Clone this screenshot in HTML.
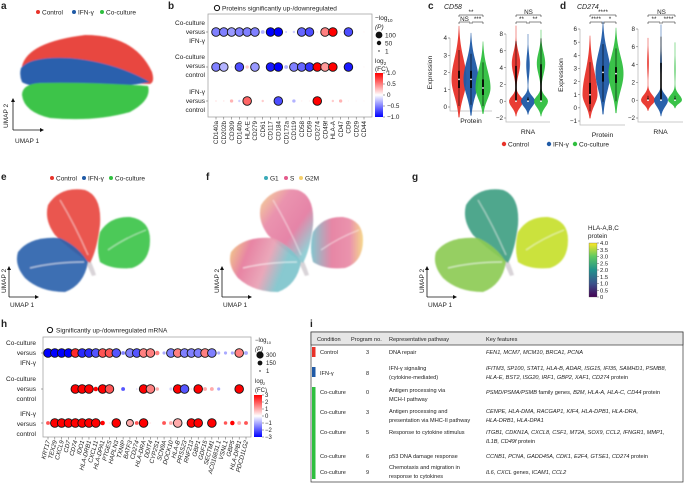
<!DOCTYPE html>
<html><head><meta charset="utf-8"><style>
html,body{margin:0;padding:0;background:#fff;width:685px;height:483px;overflow:hidden}
svg{font-family:"Liberation Sans",sans-serif;display:block}
text{fill:#222}
.it{font-style:italic}
.lbl{font-weight:bold;font-size:10px}
</style></head><body>
<svg id="fig" width="685" height="483" viewBox="0 0 685 483">
<defs>
<filter id="blur1" x="-20%" y="-20%" width="140%" height="140%"><feGaussianBlur stdDeviation="0.9"/></filter>
<linearGradient id="fcb" x1="0" y1="0" x2="0" y2="1"><stop offset="0" stop-color="#f00"/><stop offset="0.5" stop-color="#fff"/><stop offset="1" stop-color="#00f"/></linearGradient>
<linearGradient id="vir" x1="0" y1="1" x2="0" y2="0"><stop offset="0" stop-color="#440154"/><stop offset="0.25" stop-color="#3b528b"/><stop offset="0.5" stop-color="#21918c"/><stop offset="0.75" stop-color="#5ec962"/><stop offset="1" stop-color="#fde725"/></linearGradient>
<linearGradient id="fTop" x1="0" y1="0" x2="1" y2="1"><stop offset="0" stop-color="#f5d98a"/><stop offset="0.3" stop-color="#e98aa8"/><stop offset="0.6" stop-color="#e47aa0"/><stop offset="0.85" stop-color="#8ccbd2"/></linearGradient>
<linearGradient id="fLeft" x1="0" y1="0" x2="1" y2="0.3"><stop offset="0" stop-color="#f3d27a"/><stop offset="0.3" stop-color="#e67a9c"/><stop offset="0.6" stop-color="#e9a0b4"/><stop offset="0.85" stop-color="#7ec4cc"/></linearGradient>
<linearGradient id="fRight" x1="0" y1="0" x2="1" y2="0"><stop offset="0" stop-color="#78c2cc"/><stop offset="0.4" stop-color="#e57c9e"/><stop offset="0.75" stop-color="#e98aa6"/><stop offset="1" stop-color="#f5d480"/></linearGradient>
</defs>

<g>
<text class="lbl" x="1" y="9">a</text>
<g font-size="6.5">
<circle cx="38" cy="12" r="2" fill="#e8332a"/><text x="42" y="14.5">Control</text>
<circle cx="74" cy="12" r="2" fill="#1f5aa6"/><text x="78" y="14.5">IFN-γ</text>
<circle cx="102" cy="12" r="2" fill="#2fbf3f"/><text x="106" y="14.5">Co-culture</text>
</g>
<g filter="url(#blur1)">
<path d="M22 66 Q28 42 85 35 Q135 35 152 72 Q155 82 150 84 L22 80Z" fill="#e8473f"/>
<path d="M21 68 Q30 56 70 58 Q115 62 150 82 Q120 88 70 88 Q30 88 22 82 Q19 75 21 68Z" fill="#2a60ad"/>
<path d="M22 95 Q22 84 40 83 Q90 82 148 86 Q152 100 130 112 Q95 122 50 118 Q24 112 22 95Z" fill="#3cc44a"/>
</g>
<path d="M13 130 V100 M13 130 H42" stroke="#111" stroke-width="0.8" fill="none"/>
<path d="M11 102 L13 98 L15 102Z M40 128 L44 130 L40 132Z" fill="#111"/>
<text x="15" y="143" font-size="6.5">UMAP 1</text>
<text transform="translate(8,128) rotate(-90)" font-size="6.5">UMAP 2</text>
</g>

<g id="pb">
<text class="lbl" x="168" y="9">b</text>
<circle cx="217" cy="8" r="2.6" fill="none" stroke="#111" stroke-width="1"/>
<text x="222" y="10.5" font-size="6.5">Proteins significantly up-/downregulated</text>
<rect x="208" y="14" width="164" height="103" fill="none" stroke="#999" stroke-width="0.7"/>
<g font-size="6.5" text-anchor="end">
<text x="205" y="25">Co-culture</text><text x="205" y="34">versus</text><text x="205" y="43">IFN-γ</text>
<text x="205" y="59">Co-culture</text><text x="205" y="68">versus</text><text x="205" y="77">control</text>
<text x="205" y="94">IFN-γ</text><text x="205" y="103">versus</text><text x="205" y="112">control</text>
</g>
<g font-size="6.5">
<text x="375" y="20">−log<tspan font-size="4.5" dy="2">10</tspan></text><text x="375" y="29" class="it">(P)</text>
<circle cx="379" cy="35" r="3.4" fill="#111"/><text x="385" y="37.5">100</text>
<circle cx="379" cy="43" r="2.2" fill="#111"/><text x="385" y="45.5">50</text>
<circle cx="379" cy="51" r="0.7" fill="#111"/><text x="385" y="53.5">1</text>
<text x="375" y="63">log<tspan font-size="4.5" dy="2">2</tspan></text><text x="375" y="71">(FC)</text>
<rect x="375" y="73" width="8" height="44" fill="url(#fcb)"/>
</g>
</g>

<g id="pcd">
<text class="lbl" x="428" y="9">c</text>
<text class="it" x="444" y="9" font-size="7">CD58</text>
<text class="lbl" x="560" y="9">d</text>
<text class="it" x="577" y="9" font-size="7">CD274</text>
<g font-size="6.5">
<circle cx="504" cy="144" r="2.2" fill="#e8332a"/><text x="508" y="146.5">Control</text>
<circle cx="549" cy="144" r="2.2" fill="#1f5aa6"/><text x="553" y="146.5">IFN-γ</text>
<circle cx="575" cy="144" r="2.2" fill="#2fbf3f"/><text x="579" y="146.5">Co-culture</text>
</g>
</g>

<g id="pefg">
<text class="lbl" x="1" y="180">e</text>
<g font-size="6.5">
<circle cx="52" cy="178" r="2" fill="#e8332a"/><text x="56" y="180.5">Control</text>
<circle cx="84" cy="178" r="2" fill="#1f5aa6"/><text x="88" y="180.5">IFN-γ</text>
<circle cx="111" cy="178" r="2" fill="#2fbf3f"/><text x="115" y="180.5">Co-culture</text>
</g>
<text class="lbl" x="206" y="180">f</text>
<g font-size="6.5">
<circle cx="266" cy="178" r="2" fill="#3aaab8"/><text x="270" y="180.5">G1</text>
<circle cx="286" cy="178" r="2" fill="#e35b8c"/><text x="290" y="180.5">S</text>
<circle cx="301" cy="178" r="2" fill="#f5cf6a"/><text x="305" y="180.5">G2M</text>
</g>
<text class="lbl" x="412" y="180">g</text>
<g font-size="6.3">
<text x="588" y="230">HLA-A,B,C</text><text x="588" y="238">protein</text>
<rect x="589" y="243" width="8" height="54" fill="url(#vir)" stroke="#555" stroke-width="0.3"/>
</g>
</g>

<g id="ph">
<text class="lbl" x="1" y="327">h</text>
<circle cx="50" cy="330" r="2.6" fill="none" stroke="#111" stroke-width="1"/>
<text x="56" y="332.5" font-size="6.5">Significantly up-/downregulated mRNA</text>
<rect x="43" y="337" width="208" height="100" fill="none" stroke="#999" stroke-width="0.7"/>
<g font-size="6.5" text-anchor="end">
<text x="36" y="345">Co-culture</text><text x="36" y="355">versus</text><text x="36" y="365">IFN-γ</text>
<text x="36" y="381">Co-culture</text><text x="36" y="391">versus</text><text x="36" y="401">control</text>
<text x="36" y="416">IFN-γ</text><text x="36" y="426">versus</text><text x="36" y="436">control</text>
</g>
<g font-size="6">
<text x="255" y="342">−log<tspan font-size="4" dy="2">10</tspan></text><text x="255" y="351" class="it">(P)</text>
<circle cx="260" cy="355" r="3.6" fill="#111"/><text x="266" y="357">300</text>
<circle cx="260" cy="363" r="2.4" fill="#111"/><text x="266" y="365">150</text>
<circle cx="260" cy="371" r="0.7" fill="#111"/><text x="266" y="373">1</text>
<text x="255" y="383">log<tspan font-size="4" dy="2">2</tspan></text><text x="255" y="392">(FC)</text>
<rect x="254" y="395" width="8" height="42" fill="url(#fcb)"/>
</g>
</g>

<g font-size="5.6">
<text class="lbl" x="310" y="327">i</text>
<rect x="311" y="332" width="372" height="150" fill="none" stroke="#333" stroke-width="0.7"/>
<rect x="311" y="332" width="372" height="13" fill="#e6e6e6" stroke="#333" stroke-width="0.7"/>
<text x="317" y="341">Condition</text><text x="351" y="341">Program no.</text><text x="389" y="341">Representative pathway</text><text x="486" y="341">Key features</text>
<rect x="312" y="347" width="3.5" height="10" fill="#e8332a"/>
<rect x="312" y="367" width="3.5" height="10" fill="#1f5aa6"/>
<rect x="312" y="387" width="3.5" height="92" fill="#2fbf3f"/>
<g>
<text x="320" y="354">Control</text><text x="366" y="354">3</text><text x="389" y="354">DNA repair</text><text x="486" y="354" class="it">FEN1, MCM7, MCM10, BRCA1,  PCNA</text>
<text x="320" y="375">IFN-γ</text><text x="366" y="375">8</text><text x="389" y="370">IFN-γ signaling</text><text x="389" y="379">(cytokine-mediated)</text>
<text x="486" y="370" class="it">IFITM3, SP100, STAT1, HLA-B, ADAR, ISG15, IFI35, SAMHD1, PSMB8,</text>
<text x="486" y="379"><tspan class="it">HLA-E, BST2, ISG20, IRF1, GBP2, XAF1, CD274</tspan> protein</text>
<text x="320" y="394">Co-culture</text><text x="366" y="394">0</text><text x="389" y="392">Antigen processing via</text><text x="389" y="401">MCH-I pathway</text>
<text x="486" y="394"><tspan class="it">PSMD/PSMA/PSMB</tspan> family genes, <tspan class="it">B2M, HLA-A, HLA-C, CD44</tspan> protein</text>
<text x="320" y="414">Co-culture</text><text x="366" y="414">3</text><text x="389" y="413">Antigen processing and</text><text x="389" y="422">presentation via MHC-II pathway</text>
<text x="486" y="413" class="it">CENPE, HLA-DMA, RACGAP1, KIF4, HLA-DPB1, HLA-DRA,</text>
<text x="486" y="422" class="it">HLA-DRB1, HLA-DPA1</text>
<text x="320" y="434">Co-culture</text><text x="366" y="434">5</text><text x="389" y="434">Response to cytokine stimulus</text>
<text x="486" y="434" class="it">ITGB1, CDKN1A, CXCL8, CSF1, MT2A, SOX9, CCL2, IFNGR1, MMP1,</text>
<text x="486" y="443"><tspan class="it">IL1B, CD49f</tspan> protein</text>
<text x="320" y="458">Co-culture</text><text x="366" y="458">6</text><text x="389" y="458">p53 DNA damage response</text>
<text x="486" y="458"><tspan class="it">CCNB1, PCNA, GADD45A, CDK1, E2F4, GTSE1, CD274</tspan> protein</text>
<text x="320" y="474">Co-culture</text><text x="366" y="474">9</text><text x="389" y="469">Chemotaxis and migration in</text><text x="389" y="478">response to cytokines</text>
<text x="486" y="474"><tspan class="it">IL6, CXCL</tspan> genes, <tspan class="it">ICAM1, CCL2</tspan></text>
</g>
</g>
</svg>
<script>
var bProteins = ["CD140a","CD202b","CD309","CD140b","HLA-E","CD279","CD61","CD117","CD184","CD172a","CD119","CD58","CD59","CD274","CD49f","HLA-A","CD47","CD9","CD29","CD44"];
var bFC1 = [-0.5,-0.5,-0.4,-0.5,-0.5,-0.5,-0.3,-1.0,-1.0,-0.2,-0.2,-0.6,-0.7,0.1,0.5,1.0,0.1,-0.7,0.05,0.05];
var bP1  = [100,100,100,100,100,100,20,100,100,5,8,100,100,3,100,100,4,100,2,2];
var bS1  = [1,1,1,1,1,1,0,1,1,0,0,1,1,0,1,1,0,1,0,0];
var bFC2 = [-0.5,-0.3,-0.1,-0.7,0.2,-0.4,0.05,-0.9,-1.0,-0.3,-0.5,-0.6,-0.8,1.0,0.4,1.0,0.05,-0.9,0.05,0.05];
var bP2  = [100,100,3,100,15,100,2,100,100,20,100,100,100,100,100,100,2,100,2,2];
var bS2  = [1,1,0,1,0,1,0,1,1,0,1,1,1,1,1,1,0,1,0,0];
var bFC3 = [0.1,0.1,0.3,-0.2,0.6,0.05,0.2,0.05,-0.7,0.05,-0.3,0.05,0.05,1.0,0.05,0.2,0.3,0.05,0.05,0.05];
var bP3  = [4,3,15,8,100,2,8,3,100,2,15,3,3,100,2,8,15,2,2,2];
var bS3  = [0,0,0,0,1,0,0,0,1,0,0,0,0,1,0,0,0,0,0,0];
var bFCTicks = ["1.0","0.5","0","−0.5","−1.0"];

var hGenes = ["KRT17","TEX29","CXCL9","CD7","CD74","IDO1","HLA-DRB1","CXCL11","HLA-DPA1","PTGES","HAPLN3","TXNIP","BATF3","CD274","HLA-DRA","DDIT4","CYP2S1","SCN9A","DOCK10","HLA-B","PRSS23","RNF213","GBP1","GDF15","SECTM1","AC016831.1","VSNL1","GBP5","HLA-DPB1","PDCD1LG2"];
var hFC1 = [-3,-3,-3,-3,2.5,-2.5,-2.5,-2,2,2,-2,-1.5,-1.5,-2,1.5,1.5,1.5,-1,-1.5,1.5,-1.5,-1.5,-1.5,1.5,-1.5,-1,-1,-1,1.5,-1];
var hP1  = [300,300,300,300,300,300,300,300,300,300,300,60,300,300,300,300,80,40,300,300,300,300,300,300,300,40,40,40,300,60];
var hS1  = [1,1,1,1,1,1,1,1,1,1,1,0,1,1,1,1,0,0,1,1,1,1,1,1,1,0,0,0,1,0];
var hFC2 = [0,0,0,0,3,3,3,3,3,2,0,-2,0,-0.5,3,1.5,1,0,-0.5,3,-2,0.5,3,1,1,-1,0,0,3,0];
var hP2  = [0,0,0,0,300,300,300,80,300,300,0,60,0,10,300,300,50,0,40,300,300,10,300,60,60,40,0,0,300,0];
var hS2  = [0,0,0,0,1,1,1,0,1,1,0,0,0,0,1,1,0,0,0,1,1,0,1,0,0,0,0,0,1,0];
var hFC3 = [2,3,3,3,3,3,3,3,3,0.3,3,0.2,1,2,3,0.3,0,2,1,1,0.2,3,3,0.2,3,0,2,3,1,2];
var hP3  = [60,300,300,300,300,300,300,300,80,10,300,10,200,60,300,10,0,60,60,300,10,300,300,10,300,0,50,80,60,60];
var hS3  = [0,1,1,1,1,1,1,1,0,0,1,0,1,0,1,0,0,0,0,1,0,1,1,0,1,0,0,0,0,0];
var hFCTicks = ["3","2","1","0","−1","−2","−3"];

var vGroups = ["Control","IFN-γ","Co-culture"];
var cProtMed = [1.6,1.6,1.1], cProtMin = [-0.6,-0.5,-0.4], cProtMax = [4.7,4.3,3.8], cProtQ1=[1.1,1.1,0.7], cProtQ3=[2.1,2.1,1.6];
var cRnaMin = [-1.8,-1.6,-1.8], cRnaMax = [9,8,8.5], cRnaHigh = [4.5,4.3,4.5], cRnaHighW = [0.6,0.25,0.6], cRnaQ3=[4.2,0.3,4.4];
var dProtMed = [1.0,2.7,2.6], dProtMin = [-0.8,-0.5,-0.4], dProtMax = [5.5,6.6,6.1], dProtQ1=[0.3,2.0,1.9], dProtQ3=[1.9,3.2,3.1];
var dRnaMin = [-1.2,-1.8,-0.9], dRnaMax = [7,8.5,6.5], dRnaHigh = [4.2,4.2,3.5], dRnaHighW = [0.12,0.12,0.08], dRnaQ3=[0.2,4.2,0.2];
var cProtTicks = [0,1,2,3,4], rnaTicks = [-2,0,2,4,6,8], dProtTicks = [-1,0,1,2,3,4,5,6];
var gTicks = ["4.0","3.5","3.0","2.5","2.0","1.5","1.0","0.5","0"];

var NS = "http://www.w3.org/2000/svg";
function mk(tag, attrs, parent){ var e=document.createElementNS(NS,tag); for(var k in attrs) e.setAttribute(k,attrs[k]); (parent||document.getElementById('fig')).appendChild(e); return e; }
function fcColor(v, max){ var t=Math.max(-1,Math.min(1,v/max)); var r,g,b; if(t>=0){r=255;g=b=Math.round(255*(1-t));} else {b=255;r=g=Math.round(255*(1+t));} return "rgb("+r+","+g+","+b+")"; }

var pb=document.getElementById('pb');
var bX0=216, bX1=364;
function bx(i){ return bX0 + i*(bX1-bX0)/(bProteins.length-1); }
var bRows=[[bFC1,bP1,bS1,32],[bFC2,bP2,bS2,67],[bFC3,bP3,bS3,101]];
bRows.forEach(function(row,ri){
  row[0].forEach(function(v,i){
    var r=Math.max(0.6, Math.sqrt(row[1][i]/100)*4.3);
    var c=mk('circle',{cx:bx(i),cy:row[3],r:r,fill:fcColor(v,1),stroke:row[2][i]?"#111":"none","stroke-width":0.9},pb);
    
    
  });
  mk('line',{x1:206,x2:208,y1:row[3],y2:row[3],stroke:"#555","stroke-width":0.5},pb);
});
bProteins.forEach(function(p,i){
  mk('line',{x1:bx(i),x2:bx(i),y1:117,y2:119.5,stroke:"#555","stroke-width":0.5},pb);
  var t=mk('text',{transform:"translate("+(bx(i)+2.2)+",121) rotate(-90)","font-size":6.3,"text-anchor":"end"},pb);
  t.textContent=p;
  
  
});
bFCTicks.forEach(function(s,i){ var y=73+i*11; mk('line',{x1:383,x2:385,y1:y,y2:y,stroke:"#555","stroke-width":0.5},pb); var t=mk('text',{x:387,y:y+2.2,"font-size":6.3},pb); t.textContent=s; });

var ph=document.getElementById('ph');
var hX0=48, hX1=246;
function hx(i){ return hX0 + i*(hX1-hX0)/(hGenes.length-1); }
var hRows=[[hFC1,hP1,hS1,353],[hFC2,hP2,hS2,389],[hFC3,hP3,hS3,423]];
hRows.forEach(function(row,ri){
  row[0].forEach(function(v,i){
    if(row[1][i]<=0) return;
    var r=Math.max(0.7, Math.sqrt(row[1][i]/300)*4.3);
    var c=mk('circle',{cx:hx(i),cy:row[3],r:r,fill:fcColor(v,3),stroke:row[2][i]?"#111":"none","stroke-width":0.9},ph);
    
    
  });
  mk('line',{x1:41,x2:43,y1:row[3],y2:row[3],stroke:"#555","stroke-width":0.5},ph);
});
hGenes.forEach(function(g,i){
  mk('line',{x1:hx(i),x2:hx(i),y1:437,y2:439.5,stroke:"#555","stroke-width":0.5},ph);
  var t=mk('text',{transform:"translate("+(hx(i)+2.2)+",441) rotate(-75)","font-size":6.2,"text-anchor":"end","font-style":"italic"},ph);
  t.textContent=g;
  
  
});
hFCTicks.forEach(function(s,i){ var y=395+i*7; mk('line',{x1:262,x2:264,y1:y,y2:y,stroke:"#555","stroke-width":0.5},ph); var t=mk('text',{x:265,y:y+2,"font-size":6},ph); t.textContent=s; });

var pcd=document.getElementById('pcd');
var vCols=["#e8332a","#1f5aa6","#2fbf3f"];
function axis(x0,x1,yTop,yBot,vMin,vMax,ticks,label,ylabX,withLabel){
  var ys=function(v){return yBot-(v-vMin)/(vMax-vMin)*(yBot-yTop);};
  mk('path',{d:"M"+x0+" "+yTop+" V"+(yBot+4)+" H"+x1,stroke:"#bbb","stroke-width":0.8,fill:"none"},pcd);
  ticks.forEach(function(t){ var y=ys(t); mk('line',{x1:x0-2,x2:x0,y1:y,y2:y,stroke:"#555","stroke-width":0.5},pcd); var e=mk('text',{x:x0-3,y:y+2.2,"font-size":6.3,"text-anchor":"end"},pcd); e.textContent=(t<0?"−"+(-t):t); });
  var l=mk('text',{x:(x0+x1)/2,y:yBot+16,"font-size":6.8,"text-anchor":"middle"},pcd); l.textContent=label;
  if(withLabel){ var e=mk('text',{transform:"translate("+ylabX+","+((yTop+yBot)/2)+") rotate(-90)","font-size":6.8,"text-anchor":"middle"},pcd); e.textContent="Expression"; }
  return ys;
}
function violinPath(cx,ys,vmin,vmax,profile){
  var L=[],R=[],n=40;
  for(var k=0;k<=n;k++){ var v=vmin+(vmax-vmin)*k/n; var w=profile(v); L.push((cx-w).toFixed(2)+","+ys(v).toFixed(2)); R.unshift((cx+w).toFixed(2)+","+ys(v).toFixed(2)); }
  return "M"+L.join(" L")+" L"+R.join(" L")+"Z";
}
function drawProt(cxs,ys,med,mn,mx,q1,q3,W,name){
  cxs.forEach(function(cx,i){
    var sLo=(med[i]-mn[i])/2.3, sHi=(mx[i]-med[i])/2.6;
    var p=mk('path',{d:violinPath(cx,ys,mn[i],mx[i],function(v){var s=v<med[i]?sLo:sHi; return W*Math.exp(-0.5*Math.pow((v-med[i])/s,2));}),fill:vCols[i],opacity:0.95},pcd);
    
    
    mk('line',{x1:cx,x2:cx,y1:ys(mn[i]+0.3*(med[i]-mn[i])),y2:ys(mx[i]-0.45*(mx[i]-med[i])),stroke:"#000","stroke-width":0.6},pcd);
    mk('rect',{x:cx-0.9,y:ys(q3[i]),width:1.8,height:ys(q1[i])-ys(q3[i]),fill:"#000"},pcd);
    mk('circle',{cx:cx,cy:ys(med[i]),r:0.9,fill:"#fff"},pcd);
  });
}
function drawRna(cxs,ys,mn,mx,hi,hiW,q3,W,name){
  cxs.forEach(function(cx,i){
    var p=mk('path',{d:violinPath(cx,ys,mn[i],mx[i],function(v){ var a=(v<0?Math.exp(-0.5*Math.pow(v/(-mn[i]/2.5),2)):Math.exp(-0.5*Math.pow(v/0.6,2))); var b=hiW[i]*Math.exp(-0.5*Math.pow((v-hi[i])/1.3,2)); return W*Math.max(a+b,0.04);}),fill:vCols[i],opacity:0.95},pcd);
    
    
    mk('rect',{x:cx-0.8,y:ys(q3[i]),width:1.6,height:ys(0)-ys(q3[i]),fill:"#000"},pcd);
    mk('line',{x1:cx,x2:cx,y1:ys(0),y2:ys(Math.max(q3[i]*1.7,0.5)),stroke:"#000","stroke-width":0.6},pcd);
    mk('circle',{cx:cx,cy:ys(0),r:0.9,fill:"#fff"},pcd);
  });
}
var ysC1=axis(450,492,38,107,0,4,cProtTicks,"Protein",432,true);
drawProt([459,471,483],ysC1,cProtMed,cProtMin,cProtMax,cProtQ1,cProtQ3,7.5,"c-protein");
var ysC2=axis(506,550,34,118,-2,8,rnaTicks,"RNA",0,false);
drawRna([516,528,541],ysC2,cRnaMin,cRnaMax,cRnaHigh,cRnaHighW,cRnaQ3,7,"c-rna");
var ysD1=axis(580,625,29,121,-1,6,dProtTicks,"Protein",563,true);
drawProt([590,603,616],ysD1,dProtMed,dProtMin,dProtMax,dProtQ1,dProtQ3,7.5,"d-protein");
var ysD2=axis(638,683,29,118,-2,8,rnaTicks,"RNA",0,false);
drawRna([648,661,675],ysD2,dRnaMin,dRnaMax,dRnaHigh,dRnaHighW,dRnaQ3,7,"d-rna");
function br(x1,x2,y,txt){ mk('path',{d:"M"+x1+" "+(y+2)+" V"+y+" H"+x2+" V"+(y+2),stroke:"#111","stroke-width":0.5,fill:"none"},pcd); var t=mk('text',{x:(x1+x2)/2,y:y-0.8,"font-size":6.3,"text-anchor":"middle"},pcd); t.textContent=txt; }
br(459,483,15,"**"); br(459,470,22,"NS"); br(472,483,22,"***");
br(516,541,15,"NS"); br(516,527,22,"**"); br(529,541,22,"**");
br(590,616,15,"****"); br(590,602,22,"****"); br(604,616,22,"*");
br(648,675,15,"NS"); br(648,660,22,"**"); br(662,675,22,"****");

var pe=document.getElementById('pefg');
var leafTop="M48 205 Q60 186 85 190 Q102 196 100 225 Q97 250 90 263 Q70 250 55 235 Q44 220 48 205Z";
var leafLeft="M18 252 Q30 236 60 238 Q78 246 88 262 Q84 285 65 292 Q40 292 25 278 Q14 265 18 252Z";
var leafRight="M100 232 Q110 216 130 217 Q150 220 150 240 Q150 262 132 268 Q112 270 100 262 Q96 248 100 232Z";
function leaves(off,fills,name){
  var g=mk('g',{transform:"translate("+off+",0)",filter:"url(#blur1)"},pe);
  
  
  mk('path',{d:"M85 250 Q92 262 96 275 L92 276 Q86 262 80 252Z",fill:"#c9c2c8",opacity:0.7},g);
  [leafTop,leafLeft,leafRight].forEach(function(d,i){ mk('path',{d:d,fill:fills[i],opacity:0.92},g); });
  mk('path',{d:"M30 268 Q55 262 84 262",stroke:"#fff","stroke-width":1.2,fill:"none",opacity:0.6},g);
  mk('path',{d:"M60 200 Q75 225 88 255",stroke:"#fff","stroke-width":1.2,fill:"none",opacity:0.5},g);
  mk('path',{d:"M108 250 Q125 238 146 230",stroke:"#fff","stroke-width":1.2,fill:"none",opacity:0.5},g);
}
leaves(0,["#e8473f","#2d63ad","#3cc44a"],"umap-e-scatter");
leaves(213,["url(#fTop)","url(#fLeft)","url(#fRight)"],"umap-f-scatter");
leaves(418,["#3fa083","#8dcb55","#c7df2e"],"umap-g-scatter");
[0,213,418].forEach(function(off){
  mk('path',{d:"M"+(9+off)+" 297 V268 M"+(9+off)+" 297 H"+(37+off),stroke:"#111","stroke-width":0.8,fill:"none"},pe);
  mk('path',{d:"M"+(7+off)+" 270 L"+(9+off)+" 266 L"+(11+off)+" 270Z M"+(35+off)+" 295 L"+(39+off)+" 297 L"+(35+off)+" 299Z",fill:"#111"},pe);
  var t=mk('text',{x:10+off,y:307,"font-size":6.5},pe); t.textContent="UMAP 1";
  var u=mk('text',{transform:"translate("+(6+off)+",293) rotate(-90)","font-size":6.5},pe); u.textContent="UMAP 2";
});
gTicks.forEach(function(s,i){ var y=243+i*54/8; mk('line',{x1:597,x2:599,y1:y,y2:y,stroke:"#555","stroke-width":0.5},pe); var t=mk('text',{x:600,y:y+2,"font-size":5.8},pe); t.textContent=s; });
</script>
</body></html>
